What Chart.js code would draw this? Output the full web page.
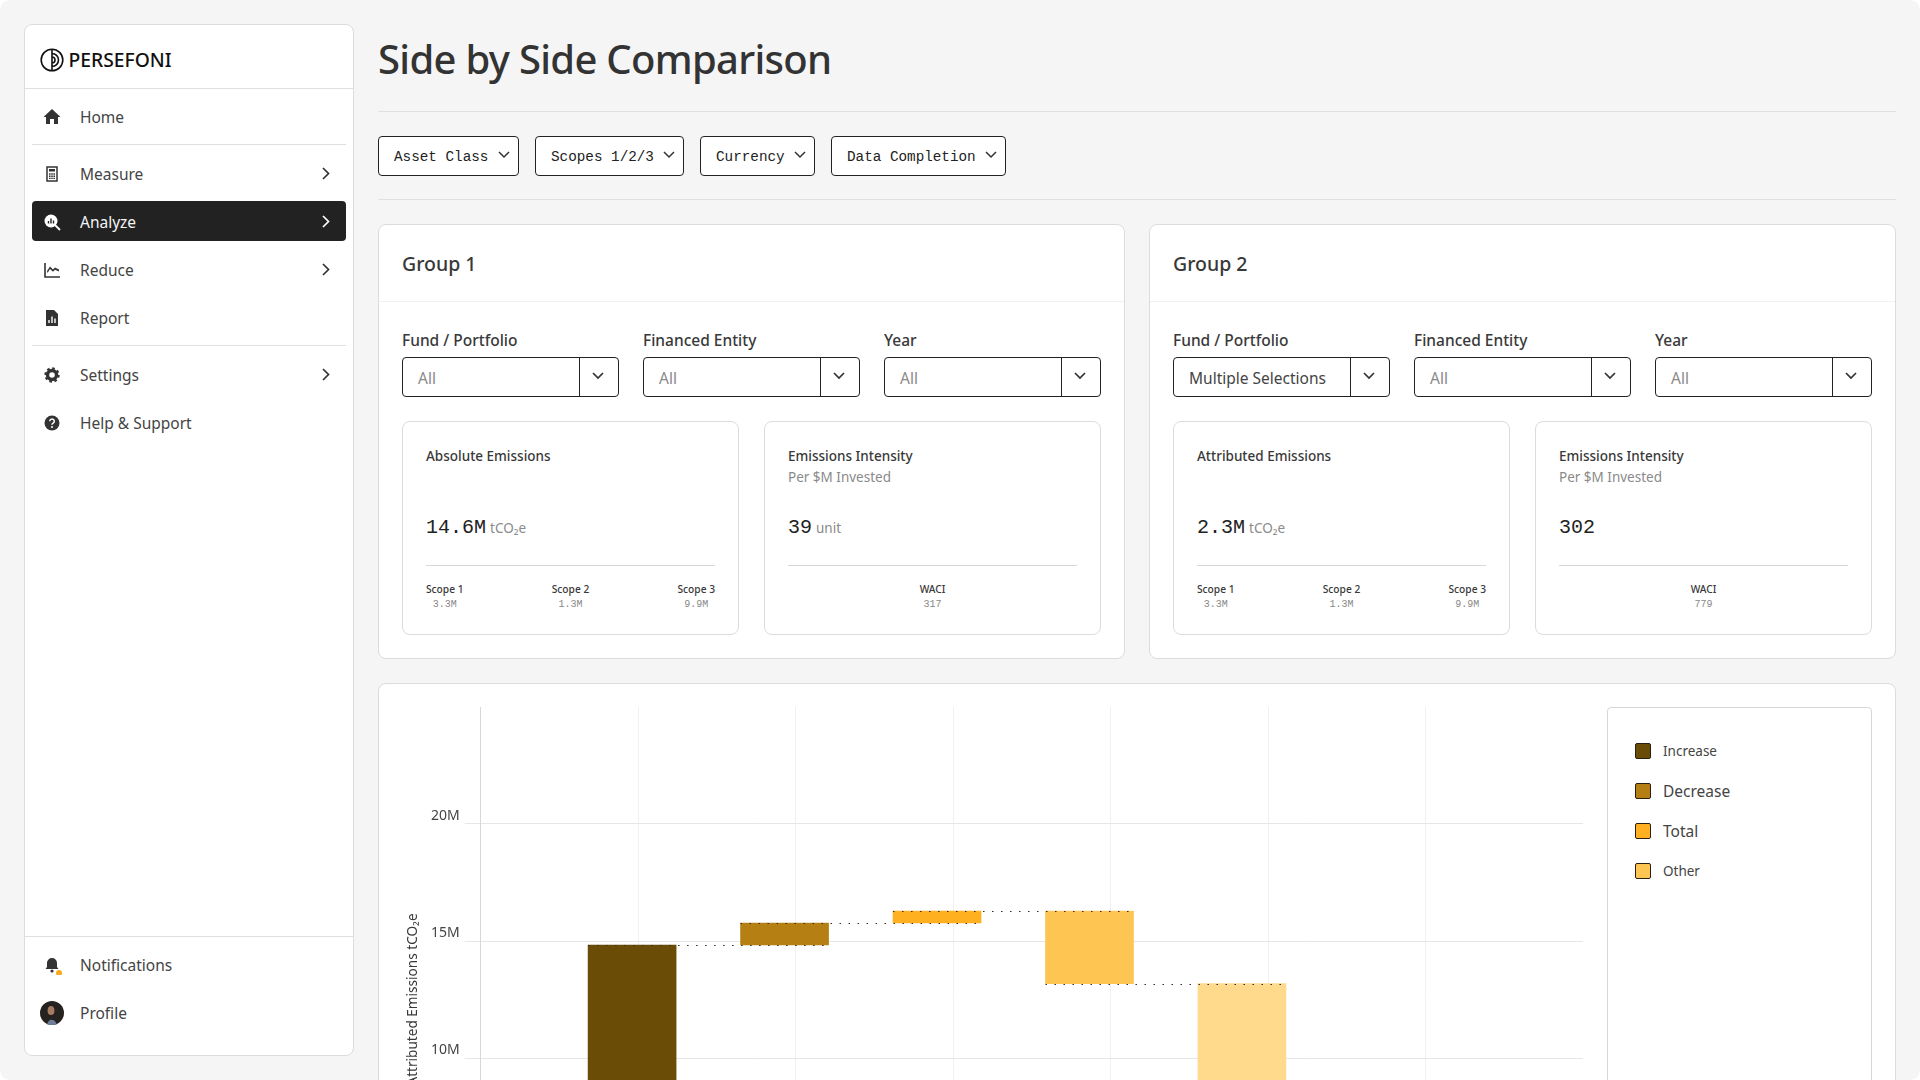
<!DOCTYPE html>
<html>
<head>
<meta charset="utf-8">
<title>Side by Side Comparison</title>
<script src="https://cdn.jsdelivr.net/npm/chart.js@4"></script>
<style>
    * { box-sizing: border-box; }
    html, body { margin: 0; width: 1920px; height: 1080px; overflow: hidden; background: #fff; }
    body { font-family: "Noto Sans", sans-serif; color: #393939; }
    #app { position: absolute; left: 0; top: 0; width: 1920px; height: 1080px; background: #f5f5f5; border-radius: 10px; overflow: hidden; }
    .abs { position: absolute; white-space: nowrap; }
    .card { position: absolute; background: #fff; border: 1px solid #dcdcdc; border-radius: 8px; }
    .rule { position: absolute; height: 1px; background: #e0e0e0; }
    .mono { font-family: "Liberation Mono", monospace; }

    .nav-text { position: absolute; left: 55px; font-size: 15.5px; line-height: 20px; color: #444; white-space: nowrap; }
    .nav-icon { position: absolute; left: 17px; width: 20px; height: 20px; }
    .nav-chevron { position: absolute; left: 296px; width: 10px; height: 13px; }
    #active-row { position: absolute; left: 7px; top: 177px; width: 314px; height: 40px; background: #222; border-radius: 4px; }

    .filter { position: absolute; top: 136px; height: 40px; background: #fff; border: 1px solid #222; border-radius: 4px; }
    .filter span { position: absolute; left: 15px; top: 1px; font-size: 14.3px; line-height: 39px; color: #222; white-space: nowrap; }
    .filter svg { position: absolute; top: 12px; }

    .select { position: absolute; top: 132px; height: 40px; width: 216.5px; background: #fff; border: 1px solid #222; border-radius: 4px; }
    .select .val { position: absolute; left: 15px; top: 0.5px; font-size: 15.5px; line-height: 39px; color: #8a8a8a; white-space: nowrap; }
    .select .val.on { color: #444; }
    .select .sep { position: absolute; top: 0; bottom: 0; width: 1px; background: #222; }
    .select svg { position: absolute; top: 12px; }
    .sel-label { position: absolute; top: 105px; font-size: 15.5px; line-height: 20px; font-weight: 500; color: #393939; white-space: nowrap; }

    .tile { position: absolute; top: 196px; height: 214px; background: #fff; border: 1px solid #dcdcdc; border-radius: 8px; }
    .tile-title { position: absolute; left: 23px; top: 24px; font-size: 13.5px; line-height: 20px; font-weight: 500; color: #393939; white-space: nowrap; }
    .tile-sub { position: absolute; left: 23px; top: 45px; font-size: 13.5px; line-height: 20px; color: #8a8a8a; white-space: nowrap; }
    .tile-big { position: absolute; left: 23px; top: 92px; font-size: 20px; line-height: 28px; color: #222; white-space: nowrap; }
    .tile-big small { font-family: "Noto Sans", sans-serif; font-size: 13.5px; color: #8a8a8a; margin-left: 4px; }
    .tile-rule { position: absolute; left: 23px; right: 23px; top: 143px; height: 1px; background: #d8d8d8; }
    .stats { position: absolute; left: 23px; right: 23px; top: 160px; display: flex; justify-content: space-between; }
    .stats.one { justify-content: center; }
    .stat { text-align: center; }
    .stat b { display: block; font-weight: 500; font-size: 10.2px; line-height: 15px; color: #393939; }
    .stat i { display: block; font-style: normal; font-size: 10px; line-height: 15px; color: #888; font-family: "Liberation Mono", monospace; }

    #chart-card { left: 378px; top: 683px; width: 1518px; height: 640px; }
    #emissions-chart { position: absolute; left: 400px; top: 697px; }
    #legend-box { position: absolute; left: 1607px; top: 707px; width: 265px; height: 600px; background: #fff; border: 1px solid #d8d8d8; border-radius: 4px; }
    .swatch { position: absolute; left: 27px; width: 16px; height: 16px; border: 1.5px solid #2a2010; border-radius: 2px; }
    .legend-text { position: absolute; left: 55px; line-height: 20px; color: #444; white-space: nowrap; }
</style>
</head>
<body>
<div id="app">
    <div class="card" style="left:24px;top:24px;width:329.5px;height:1032px"></div>
    <div id="sidebar" class="abs" style="left:25px;top:24px;width:328px;height:1032px"></div>

    <div class="abs" style="left:378px;top:35px;font-size:40px;line-height:48px;font-weight:500;color:#333;letter-spacing:-0.7px">Side by Side Comparison</div>
    <div class="rule" style="left:378px;width:1518px;top:111px"></div>
    <div id="filters"></div>
    <div class="rule" style="left:378px;width:1518px;top:199px"></div>

    <div id="groups"></div>

    <div id="chart-card" class="card"></div>
    <canvas id="emissions-chart"></canvas>
    <div id="legend-box"></div>
</div>

<script>
// Waterfall values (tCO2e)
const categories = ['Increase', 'Decrease', 'Total', 'Other', 'Other'];
const barLows = [0, 14830000, 15770000, 13180000, 0];
const barHighs = [14830000, 15770000, 16280000, 16280000, 13180000];
const connectorLevels = [14830000, 15770000, 16280000, 13180000];
const barColors = ['#6b4c07', '#b57f14', '#ffb020', '#ffc552', '#ffd98c'];

const legendLabels = ['Increase', 'Decrease', 'Total', 'Other'];
const legendSizes = [13.5, 15.5, 15.5, 13.5];
const legendColors = ['#6b4c07', '#b57f14', '#ffb020', '#ffc552'];

const yTickStep = 5000000;
const yMax = 25000000;
const gridColumns = 7;
const barSlotMin = 0.007;
const barSlotMax = 7.237;

const filterLabels = ['Asset Class', 'Scopes 1/2/3', 'Currency', 'Data Completion'];
const filterLefts = [378, 535, 700, 831];
const filterWidths = [141, 149, 115, 175];

const navRows = [
    { label: 'Home', y: 117, icon: 'home' },
    { label: 'Measure', y: 174, icon: 'calc', more: true },
    { label: 'Analyze', y: 222, icon: 'search', more: true, active: true },
    { label: 'Reduce', y: 270, icon: 'trend', more: true },
    { label: 'Report', y: 318, icon: 'doc' },
    { label: 'Settings', y: 375, icon: 'gear', more: true },
    { label: 'Help & Support', y: 423, icon: 'help' },
    { label: 'Notifications', y: 965, icon: 'bell' },
    { label: 'Profile', y: 1013, icon: 'face' }
];

const groups = [
    {
        left: 378, title: 'Group 1', fund: 'All', tile1: 'Absolute Emissions', big1: '14.6M',
        big2: '39', unit2: 'unit', waci: '317'
    },
    {
        left: 1149, title: 'Group 2', fund: 'Multiple Selections', tile1: 'Attributed Emissions', big1: '2.3M',
        big2: '302', unit2: '', waci: '779'
    }
];
const scopeNames = ['Scope 1', 'Scope 2', 'Scope 3'];
const scopeValues = ['3.3M', '1.3M', '9.9M'];

const icons = {
    home: '<path d="M10 2 L1.5 10 H4 V17 H8 V12 H12 V17 H16 V10 H18.5 Z" fill="#333"/>',
    calc: '<rect x="5" y="3" width="10" height="14" fill="none" stroke="#333" stroke-width="1.5"/><rect x="7" y="5" width="6" height="2.5" fill="#333"/><path d="M7 10h6M7 12.2h6M7 14.4h6" stroke="#333" stroke-width="1.4" stroke-dasharray="1.6 .6"/>',
    search: '<circle cx="9" cy="9" r="6.5" fill="#fff"/><path d="M13 13 L18 18" stroke="#fff" stroke-width="1.8"/><path d="M6.5 11.5V9M9 11.5V6.5M11.5 11.5V8.5" stroke="#222" stroke-width="1.4"/>',
    trend: '<path d="M3 3V17H18" fill="none" stroke="#333" stroke-width="1.6"/><path d="M5 11 L8 6.5 L11 9.5 L13 7.5 L17 9.5 V11.5 L13 9.8 L11 11.8 L8 9 L5.5 13 Z" fill="#333"/>',
    doc: '<path d="M4 2H12L16 6V18H4Z" fill="#333"/><path d="M7 15V12M10 15V8.5M13 15V10.5" stroke="#fff" stroke-width="1.4"/>',
    gear: '<circle cx="10" cy="10" r="4.5" fill="none" stroke="#333" stroke-width="3.4"/><circle cx="10" cy="10" r="6.6" fill="none" stroke="#333" stroke-width="2.2" stroke-dasharray="2.6 2.58"/>',
    help: '<circle cx="10" cy="10" r="7.5" fill="#333"/><path d="M7.7 8.2a2.3 2.2 0 1 1 3.4 2c-.8.5-1.1.8-1.1 1.6" fill="none" stroke="#fff" stroke-width="1.5"/><circle cx="10" cy="14" r="1" fill="#fff"/>',
    bell: '<path d="M10 3a5 5 0 0 0-5 5v4l-1.5 2h13L15 12V8a5 5 0 0 0-5-5Z" fill="#333"/><circle cx="10" cy="16" r="1.6" fill="#333"/><circle cx="17" cy="18" r="3" fill="#ffa91f"/>'
};

// Build the left navigation
function buildSidebar() {
    const side = document.getElementById('sidebar');
    let html = '';
    html += `<svg class="abs" style="left:15px;top:24px" width="24" height="24" viewBox="0 0 24 24"><circle cx="12" cy="12" r="10.8" fill="none" stroke="#111" stroke-width="1.6"/><path d="M12 1V23M12 5.5A6.5 6.5 0 0 1 12 18.5M12 9A3 3 0 0 1 12 15" fill="none" stroke="#111" stroke-width="1.6"/></svg>`;
    html += `<div class="abs" style="left:43.5px;top:23px;font-size:19.3px;line-height:26px;font-weight:500;color:#111">PERSEFONI</div>`;
    [[64, 0, 328], [120, 7, 314], [321, 7, 314], [912, 0, 328]].forEach(r => {
        html += `<div class="rule" style="top:${r[0]}px;left:${r[1]}px;width:${r[2]}px"></div>`;
    });
    html += '<div id="active-row"></div>';
    navRows.forEach(row => {
        const top = row.y - 24;
        html += `<div class="nav-text" style="top:${top - 10}px;${row.active ? 'color:#f4f4f4' : ''}">${row.label.replace('&', '&amp;')}</div>`;
        if (row.icon === 'face') {
            html += `<svg class="abs" style="left:15px;top:${top - 12}px" width="24" height="24"><defs><clipPath id="av"><circle cx="12" cy="12" r="12"/></clipPath></defs><g clip-path="url(#av)"><rect width="24" height="24" fill="#26221f"/><ellipse cx="11" cy="9.5" rx="3.4" ry="4.6" fill="#a77a62"/><path d="M7 24C8 17 15 17 17 24Z" fill="#6d7f98"/></g></svg>`;
        } else {
            html += `<svg class="nav-icon" style="top:${top - 10}px" viewBox="0 0 20 20">${icons[row.icon]}</svg>`;
        }
        if (row.more) {
            html += `<svg class="nav-chevron" style="top:${top - 7}px"><polyline points="2,1 7.5,6.5 2,12" fill="none" stroke="${row.active ? '#fff' : '#333'}" stroke-width="1.7"/></svg>`;
        }
    });
    side.innerHTML = html;
}

function buildFilters() {
    let html = '';
    filterLabels.forEach((label, i) => {
        html += `<div class="filter" style="left:${filterLefts[i]}px;width:${filterWidths[i]}px"><span class="mono">${label}</span><svg width="14" height="14" style="right:7px"><polyline points="2,3 7,8 12,3" fill="none" stroke="#333" stroke-width="1.5"/></svg></div>`;
    });
    document.getElementById('filters').innerHTML = html;
}

function selectBox(left, label, value, on, innerWidth) {
    return `<div class="sel-label" style="left:${left}px">${label}</div>
        <div class="select" style="left:${left}px;width:${innerWidth}px"><span class="val ${on ? 'on' : ''}">${value}</span>
        <div class="sep" style="right:38px"></div>
        <svg width="14" height="14" style="right:13px"><polyline points="2,3 7,8 12,3" fill="none" stroke="#333" stroke-width="1.7"/></svg></div>`;
}

// Build a "Group" card with its selects and the two tiles
function buildGroups() {
    let html = '';
    groups.forEach(g => {
        const scopes = scopeNames.map((n, i) => `<div class="stat"><b>${n}</b><i>${scopeValues[i]}</i></div>`).join('');
        html += `<div class="card" style="left:${g.left}px;top:224px;width:747px;height:435px">
            <div class="abs" style="left:23px;top:25px;font-size:19.5px;line-height:28px;font-weight:500;color:#393939">${g.title}</div>
            <div class="rule" style="left:0;right:0;top:76px;height:1px;background:#f1f1f1"></div>
            ${selectBox(23, 'Fund / Portfolio', g.fund, g.fund !== 'All', 216.5)}
            ${selectBox(264, 'Financed Entity', 'All', false, 216.5)}
            ${selectBox(505, 'Year', 'All', false, 216.5)}
            <div class="tile" style="left:23px;width:337px">
                <div class="tile-title">${g.tile1}</div>
                <div class="tile-big mono">${g.big1}<small>tCO₂e</small></div>
                <div class="tile-rule"></div>
                <div class="stats">${scopes}</div>
            </div>
            <div class="tile" style="left:385px;width:337px">
                <div class="tile-title">Emissions Intensity</div>
                <div class="tile-sub">Per $M Invested</div>
                <div class="tile-big mono">${g.big2}${g.unit2 ? `<small>${g.unit2}</small>` : ''}</div>
                <div class="tile-rule"></div>
                <div class="stats one"><div class="stat"><b>WACI</b><i>${g.waci}</i></div></div>
            </div>
        </div>`;
    });
    document.getElementById('groups').innerHTML = html;
}

function buildLegend() {
    let html = '';
    legendLabels.forEach((label, i) => {
        const top = 35 + i * 40;
        html += `<div class="swatch" style="top:${top}px;background:${legendColors[i]}"></div>`;
        html += `<div class="legend-text" style="top:${top - 2}px;font-size:${legendSizes[i]}px">${label}</div>`;
    });
    document.getElementById('legend-box').innerHTML = html;
}

// Dotted connector from one bar to the next, at the level they share
const connectorPlugin = {
    id: 'connectors',
    afterDatasetsDraw(chart) {
        const ctx = chart.ctx;
        const bars = chart.getDatasetMeta(0).data;
        const yScale = chart.scales.y;
        ctx.save();
        ctx.strokeStyle = '#2b2b2b';
        ctx.lineWidth = 1;
        ctx.setLineDash([1.5, 7.5]);
        connectorLevels.forEach((level, i) => {
            const y = Math.round(yScale.getPixelForValue(level)) + 0.5;
            ctx.beginPath();
            ctx.moveTo(bars[i].x - bars[i].width / 2, y);
            ctx.lineTo(bars[i + 1].x + bars[i + 1].width / 2, y);
            ctx.stroke();
        });
        ctx.restore();
    }
};

function buildChart() {
    const canvas = document.getElementById('emissions-chart');
    canvas.width = 1183;
    canvas.height = 605;
    new Chart(canvas.getContext('2d'), {
        type: 'bar',
        data: {
            datasets: [{
                label: 'Attributed Emissions',
                data: categories.map((name, i) => ({ x: i + 1, y: [barLows[i], barHighs[i]], name: name })),
                backgroundColor: barColors,
                barThickness: 88,
                xAxisID: 'x'
            }]
        },
        plugins: [connectorPlugin],
        options: {
            responsive: false,
            animation: false,
            layout: { padding: { top: 10, bottom: 10, left: 0, right: 0 } },
            plugins: { legend: { display: false }, tooltip: { enabled: false } },
            scales: {
                // bars sit on this one, its gridlines stay off
                x: {
                    type: 'linear', min: barSlotMin, max: barSlotMax, display: true, offset: false,
                    grid: { display: false, offset: false }, border: { display: false }, ticks: { display: false },
                    afterFit: scale => { scale.height = 0; }
                },
                // the vertical gridlines have their own spacing in the picture
                columns: {
                    type: 'linear', axis: 'x', position: 'bottom', min: 0, max: gridColumns, offset: false,
                    grid: {
                        offset: false,
                        drawTicks: false,
                        color: c => (c.tick && (c.tick.value === 0 || c.tick.value === gridColumns)) ? 'rgba(0,0,0,0)' : '#f0f0f0'
                    },
                    border: { display: false },
                    ticks: { display: false, stepSize: 1 },
                    afterFit: scale => { scale.height = 0; }
                },
                y: {
                    min: 0,
                    max: yMax,
                    border: { color: '#d8d8d8' },
                    grid: {
                        tickLength: 16,
                        color: c => (c.tick && c.tick.value === yMax) ? 'rgba(0,0,0,0)' : '#e6e6e6'
                    },
                    title: {
                        display: true,
                        text: 'Attributed Emissions tCO₂e',
                        color: '#393939',
                        font: { family: '"Noto Sans", sans-serif', size: 13.6 },
                        padding: { top: 5, bottom: 0 }
                    },
                    ticks: {
                        stepSize: yTickStep,
                        padding: 5,
                        labelOffset: -8,
                        color: '#444',
                        font: { family: '"Noto Sans", sans-serif', size: 14 },
                        callback: value => value === yMax ? '' : (value / 1000000) + 'M'
                    },
                    afterFit: scale => {
                        scale.width = 80.7;
                        scale.paddingTop = 0;
                        scale.paddingBottom = 0;
                    }
                }
            }
        }
    });
}

window.onload = function() {
    buildSidebar();
    buildFilters();
    buildGroups();
    buildLegend();
    buildChart();
};
</script>
</body>
</html>
